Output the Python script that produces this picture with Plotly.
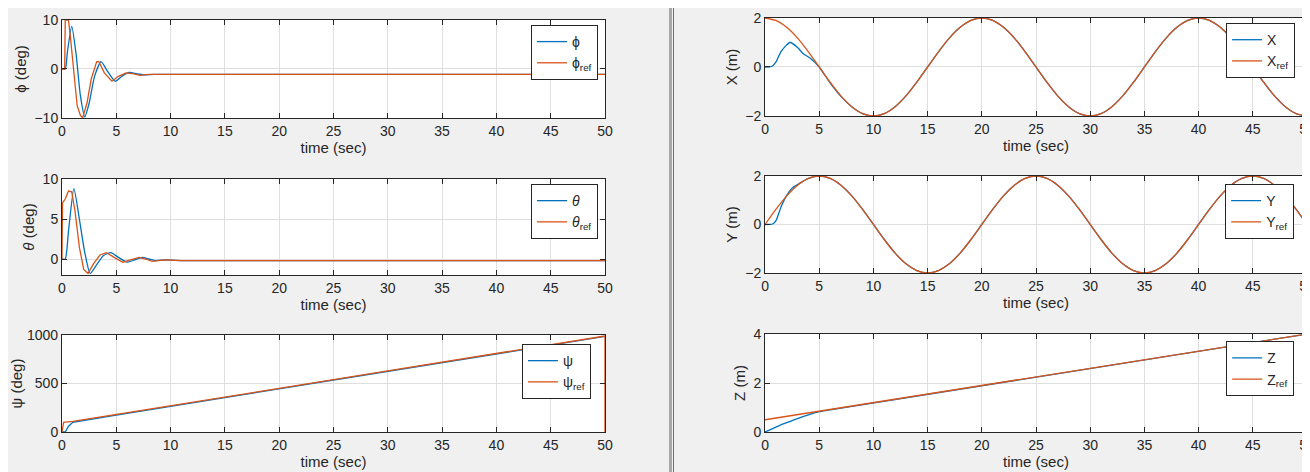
import plotly.graph_objects as go

BLUE = "#0072BD"; ORANGE = "#D95319"

# ---- data ----
phi_t      = [0, 0.3, 0.5, 0.9, 1.3, 1.7, 2.1, 2.5, 3.0, 3.6, 4.2, 4.9, 5.5, 6.2, 6.9, 7.5, 8.5, 10, 50]
phi        = [0, 0, 3.5, 8.7, 3.0, -5.5, -9.8, -7.0, -1.5, 1.5, -0.5, -2.5, -1.5, -0.7, -1.0, -1.2, -1.1, -1.1, -1.1]
phir_t     = [0, 0.25, 0.3, 0.6, 0.8, 1.1, 1.4, 1.7, 1.9, 2.3, 2.7, 3.2, 3.4, 3.9, 4.6, 5.2, 5.9, 6.6, 7.2, 8, 10, 50]
phir       = [0, 0, 10, 10, 6.0, -1.0, -7.5, -9.5, -10, -7.0, -2.0, 1.5, 1.5, -0.8, -2.5, -1.5, -0.8, -1.0, -1.3, -1.1, -1.1, -1.1]

th_t       = [0, 0.3, 0.6, 1.1, 1.6, 2.1, 2.6, 3.2, 3.8, 4.5, 5.2, 6.0, 6.7, 7.4, 8.0, 8.6, 9.5, 11, 50]
th         = [0, 0, 3.5, 8.8, 5.0, 0.8, -1.8, -0.7, 0.4, 0.8, 0.2, -0.4, -0.1, 0.2, 0.0, -0.2, -0.1, -0.2, -0.2]
thr_t      = [0, 0.05, 0.3, 0.6, 0.9, 1.2, 1.6, 2.0, 2.4, 2.9, 3.5, 4.1, 4.8, 5.6, 6.3, 7.1, 7.7, 8.3, 9.5, 11, 50]
thr        = [0, 7.0, 7.5, 8.5, 8.4, 6.0, 1.5, -1.3, -1.8, -0.6, 0.5, 0.8, 0.2, -0.4, -0.1, 0.2, 0.0, -0.3, -0.1, -0.2, -0.2]

psi_t      = [0, 0.3, 0.6, 1.0, 5, 10, 20, 30, 40, 50]
psi        = [0, 0, 60, 100, 175, 265, 445, 625, 805, 985]
psir_t     = [0, 0.15, 1.0, 5, 10, 20, 30, 40, 50, 50]
psir       = [0, 100, 110, 180, 270, 450, 630, 810, 990, 0]

t_s        = list(range(0, 51))
x_ref      = [2, 1.90, 1.62, 1.18, 0.62, 0, -0.62, -1.18, -1.62, -1.90,
              -2, -1.90, -1.62, -1.18, -0.62, 0, 0.62, 1.18, 1.62, 1.90,
              2, 1.90, 1.62, 1.18, 0.62, 0, -0.62, -1.18, -1.62, -1.90,
              -2, -1.90, -1.62, -1.18, -0.62, 0, 0.62, 1.18, 1.62, 1.90,
              2, 1.90, 1.62, 1.18, 0.62, 0, -0.62, -1.18, -1.62, -1.90, -2]
y_ref      = [0, 0.62, 1.18, 1.62, 1.90, 2, 1.90, 1.62, 1.18, 0.62,
              0, -0.62, -1.18, -1.62, -1.90, -2, -1.90, -1.62, -1.18, -0.62,
              0, 0.62, 1.18, 1.62, 1.90, 2, 1.90, 1.62, 1.18, 0.62,
              0, -0.62, -1.18, -1.62, -1.90, -2, -1.90, -1.62, -1.18, -0.62,
              0, 0.62, 1.18, 1.62, 1.90, 2, 1.90, 1.62, 1.18, 0.62, 0]
x_t        = [0, 0.6, 1.0, 1.5, 2.3, 3.0, 3.5, 4.2, 5, 6, 7, 8, 9, 10] + list(range(11, 51))
x_act      = [0, 0.02, 0.2, 0.65, 1.0, 0.8, 0.55, 0.35, 0.0, -0.65, -1.2, -1.62, -1.9, -2] + x_ref[11:]
y_t        = [0, 0.7, 1.0, 1.5, 2.0, 2.5, 3.0, 3.5, 4, 5] + list(range(6, 51))
y_act      = [0, 0.02, 0.15, 0.75, 1.2, 1.5, 1.65, 1.78, 1.9, 2] + y_ref[6:]
z_ref_t    = [0, 50]
z_ref      = [0.5, 4.0]
z_t        = [0, 0.5, 1.0, 1.5, 2.0, 3.0, 4.0, 5.0, 6.0, 50]
z_act      = [0, 0.1, 0.2, 0.3, 0.38, 0.55, 0.7, 0.83, 0.9, 4.0]

x_ticks = list(range(0, 51, 5))

panels = [
    ((0.0412, 0.4557), (0.767, 0.9746), [-10, 10], [-10, 0, 10], "ϕ (deg)",
     [(phi_t, phi, "ϕ", "spline"), (phir_t, phir, "ϕ<sub>ref</sub>", "linear")], (0.4504, 0.964)),
    ((0.0412, 0.4557), (0.4343, 0.6377), [-2, 10], [0, 5, 10], "<i>θ</i> (deg)",
     [(th_t, th, "<i>θ</i>", "spline"), (thr_t, thr, "<i>θ</i><sub>ref</sub>", "linear")], (0.4504, 0.627)),
    ((0.0412, 0.4557), (0.1017, 0.3072), [0, 1000], [0, 500, 1000], "ψ (deg)",
     [(psi_t, psi, "ψ", "linear"), (psir_t, psir, "ψ<sub>ref</sub>", "linear")], (0.4450, 0.288)),
    ((0.5779, 0.9916), (0.7712, 0.9788), [-2, 2], [-2, 0, 2], "X (m)",
     [(x_t, x_act, "X", "spline"), (t_s, x_ref, "X<sub>ref</sub>", "spline")], (0.9825, 0.968)),
    ((0.5779, 0.9916), (0.4386, 0.6441), [-2, 2], [-2, 0, 2], "Y (m)",
     [(y_t, y_act, "Y", "spline"), (t_s, y_ref, "Y<sub>ref</sub>", "spline")], (0.9818, 0.627)),
    ((0.5779, 0.9916), (0.1017, 0.3093), [0, 4], [0, 2, 4], "Z (m)",
     [(z_t, z_act, "Z", "spline"), (z_ref_t, z_ref, "Z<sub>ref</sub>", "linear")], (0.9818, 0.294)),
]

fig = go.Figure()
FAM = "Liberation Sans, Arial"
font = dict(family=FAM, size=14, color="#262626")
for i, (xd, yd, yr, yt, ytitle, series, lg) in enumerate(panels, start=1):
    sfx = "" if i == 1 else str(i)
    lname = "legend" if i == 1 else f"legend{i}"
    for (xs, ys, name, shp), col in zip(series, [BLUE, ORANGE]):
        line = dict(color=col, width=1.3, shape=shp)
        if shp == "spline":
            line["smoothing"] = 0.6
        fig.add_trace(go.Scatter(x=xs, y=ys, name=name, mode="lines", line=line,
                                 xaxis="x" + sfx, yaxis="y" + sfx, legend=lname))
    common = dict(showline=True, linecolor="#262626", linewidth=1, mirror="ticks",
                  ticks="inside", ticklen=5, tickcolor="#262626", showgrid=True,
                  gridcolor="#dfdfdf", zeroline=False, tickfont=font, automargin=False)
    fig.layout["xaxis" + sfx] = dict(domain=list(xd), range=[0, 50], tickvals=x_ticks,
                                     anchor="y" + sfx,
                                     title=dict(text="time (sec)", font=dict(size=15, family=FAM, color="#262626"), standoff=2),
                                     **common)
    fig.layout["yaxis" + sfx] = dict(domain=list(yd), range=yr, tickvals=yt, anchor="x" + sfx,
                                     title=dict(text=ytitle, font=dict(size=15, family=FAM, color="#262626"), standoff=4),
                                     **common)
    fig.layout[lname] = dict(x=lg[0], y=lg[1], xanchor="right", yanchor="top",
                             bgcolor="white", bordercolor="#262626", borderwidth=1,
                             font=dict(family=FAM, size=14, color="#262626"),
                             tracegroupgap=0, itemwidth=30)

fig.add_shape(type="rect", xref="paper", yref="paper", x0=661/1310, x1=664/1310, y0=0, y1=1,
              fillcolor="#a8a8a8", line_width=0)
fig.add_shape(type="line", xref="paper", yref="paper", x0=665.5/1310, x1=665.5/1310, y0=0, y1=1,
              line=dict(color="#2b8c9e", width=1))

fig.update_layout(width=1310, height=472, margin=dict(l=0, r=0, t=0, b=0),
                  paper_bgcolor="#f0f0f0", plot_bgcolor="white", showlegend=True, font=font)
fig.write_html("out.html")
